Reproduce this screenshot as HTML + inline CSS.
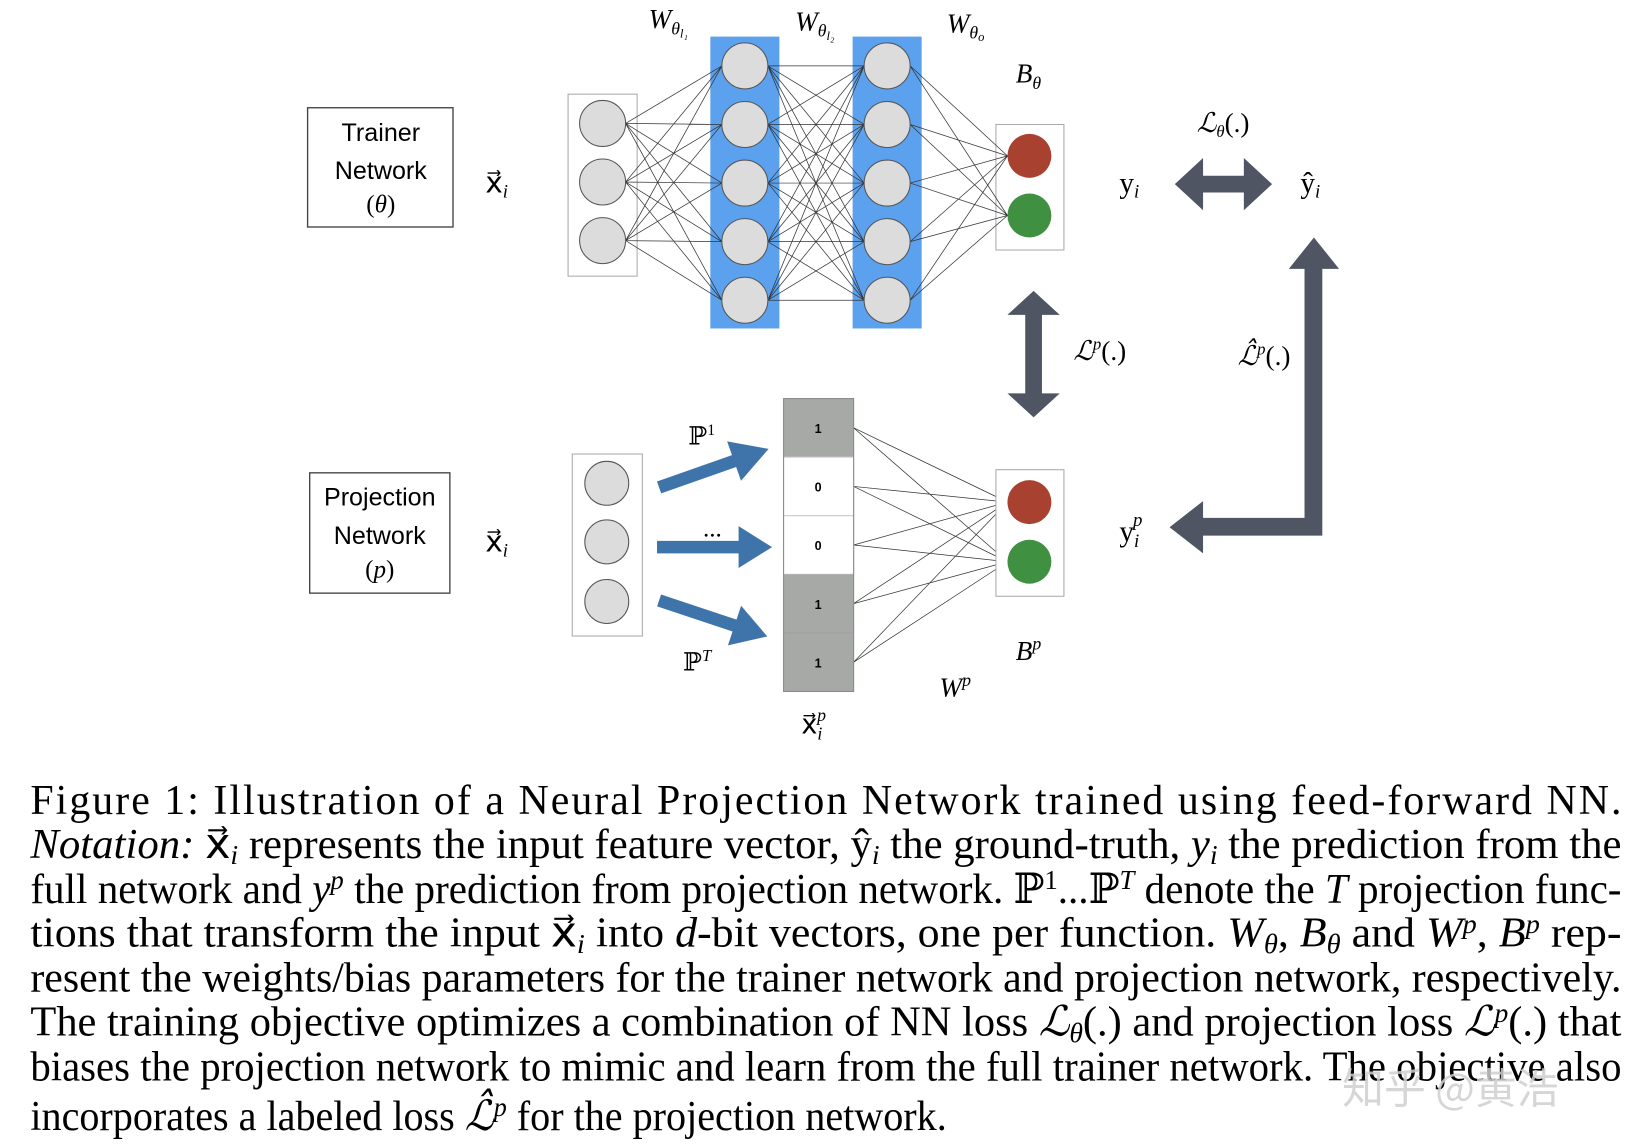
<!DOCTYPE html>
<html><head><meta charset="utf-8"><style>
html,body{margin:0;padding:0;background:#fff;}
svg{display:block;}
.cap{font-family:"Liberation Serif","DejaVu Serif",serif;font-size:40px;fill:#000;}
.m{font-family:"Liberation Serif","DejaVu Serif",serif;fill:#000;}
.s{font-family:"Liberation Sans",sans-serif;fill:#000;}
</style></head><body>
<svg width="1632" height="1146" viewBox="0 0 1560 1095.5" xmlns="http://www.w3.org/2000/svg">
<rect width="1560" height="1096" fill="#fff"/>
<g transform="translate(-2,-1)">
<rect x="296" y="104" width="139" height="114" fill="#fff" stroke="#444" stroke-width="1.3"/>
<text class="s" font-size="24" text-anchor="middle" x="366" y="136">Trainer</text>
<text class="s" font-size="24" text-anchor="middle" x="366" y="172">Network</text>
<text class="m" font-size="24" text-anchor="middle" x="366" y="204">(<tspan font-style="italic">θ</tspan>)</text>
<text class="m" font-size="28" x="466" y="185">x⃗<tspan font-size="18" font-style="italic" dy="5">i</tspan></text>

<rect x="298" y="453" width="134" height="115" fill="#fff" stroke="#444" stroke-width="1.3"/>
<text class="s" font-size="24" text-anchor="middle" x="365" y="484">Projection</text>
<text class="s" font-size="24" text-anchor="middle" x="365" y="521">Network</text>
<text class="m" font-size="24" text-anchor="middle" x="365" y="553">(<tspan font-style="italic">p</tspan>)</text>
<text class="m" font-size="28" x="466" y="528">x⃗<tspan font-size="18" font-style="italic" dy="5">i</tspan></text>

<rect x="545" y="91" width="66" height="174" fill="#fff" stroke="#aaa" stroke-width="1"/>
<rect x="681" y="36" width="66" height="279" fill="#5ba1ee"/>
<rect x="817" y="36" width="66" height="279" fill="#5ba1ee"/>
<rect x="954" y="120" width="65" height="120" fill="#fff" stroke="#aaa" stroke-width="1"/>
<path stroke="#333" stroke-width="0.7" fill="none" d="
M600 119L692 64M600 119L692 120M600 119L692 176M600 119L692 232M600 119L692 288
M600 175L692 64M600 175L692 120M600 175L692 176M600 175L692 232M600 175L692 288
M600 231L692 64M600 231L692 120M600 231L692 176M600 231L692 232M600 231L692 288
M736 64L828 64M736 64L828 120M736 64L828 176M736 64L828 232M736 64L828 288
M736 120L828 64M736 120L828 120M736 120L828 176M736 120L828 232M736 120L828 288
M736 176L828 64M736 176L828 120M736 176L828 176M736 176L828 232M736 176L828 288
M736 232L828 64M736 232L828 120M736 232L828 176M736 232L828 232M736 232L828 288
M736 288L828 64M736 288L828 120M736 288L828 176M736 288L828 232M736 288L828 288
M872 64L965 150M872 120L965 150M872 176L965 150M872 232L965 150M872 288L965 150
M872 64L965 207M872 120L965 207M872 176L965 207M872 232L965 207M872 288L965 207
M818 410L965 481M818 466L965 481M818 522L965 481M818 578L965 481M818 634L965 481
M818 410L965 538M818 466L965 538M818 522L965 538M818 578L965 538M818 634L965 538"/>
<g fill="#dcdcdc" stroke="#555" stroke-width="1">
<circle cx="578" cy="119" r="22"/><circle cx="578" cy="175" r="22"/><circle cx="578" cy="231" r="22"/>
<circle cx="714" cy="64" r="22"/><circle cx="714" cy="120" r="22"/><circle cx="714" cy="176" r="22"/><circle cx="714" cy="232" r="22"/><circle cx="714" cy="288" r="22"/>
<circle cx="850" cy="64" r="22"/><circle cx="850" cy="120" r="22"/><circle cx="850" cy="176" r="22"/><circle cx="850" cy="232" r="22"/><circle cx="850" cy="288" r="22"/>
</g>
<circle cx="986" cy="150" r="21" fill="#a8412f"/>
<circle cx="986" cy="207" r="21" fill="#3f9141"/>

<text class="m" font-size="26" font-style="italic" x="622" y="28">W<tspan font-size="17" dy="6">θ<tspan font-size="12" dy="3">l₁</tspan></tspan></text>
<text class="m" font-size="26" font-style="italic" x="762" y="30">W<tspan font-size="17" dy="6">θ<tspan font-size="12" dy="3">l₂</tspan></tspan></text>
<text class="m" font-size="26" font-style="italic" x="907" y="32">W<tspan font-size="17" dy="6">θ<tspan font-size="12" dy="2">o</tspan></tspan></text>
<text class="m" font-size="26" font-style="italic" x="973" y="80">B<tspan font-size="17" dy="6">θ</tspan></text>

<g fill="#4f5562">
<polygon points="1125,177 1152,152 1152,169 1191,169 1191,152 1218,177 1191,202 1191,185 1152,185 1152,202"/>
<polygon points="990,279 1015,302 998,302 998,377 1015,377 990,400 965,377 982,377 982,302 965,302"/>
<polygon points="1258,228 1282,258 1266,258 1266,513 1152,513 1152,530 1120,505 1152,480 1152,496 1249,496 1249,258 1234,258"/>
</g>
<text class="m" font-size="28" x="1072" y="185">y<tspan font-size="18" font-style="italic" dy="5">i</tspan></text>
<text class="m" font-size="28" x="1245" y="185">ŷ<tspan font-size="18" font-style="italic" dy="5">i</tspan></text>
<text class="m" font-size="26" x="1146" y="127"><tspan font-style="italic">ℒ</tspan><tspan font-size="16" font-style="italic" dy="5">θ</tspan><tspan dy="-5">(.)</tspan></text>
<text class="m" font-size="26" x="1028" y="345"><tspan font-style="italic">ℒ</tspan><tspan font-size="16" font-style="italic" dy="-10">p</tspan><tspan dy="10">(.)</tspan></text>
<text class="m" font-size="26" x="1185" y="350"><tspan font-style="italic">ℒ̂</tspan><tspan font-size="16" font-style="italic" dy="-10">p</tspan><tspan dy="10">(.)</tspan></text>
<text class="m" font-size="28" x="1072" y="518">y<tspan font-size="18" font-style="italic" dy="6">i</tspan><tspan font-size="18" font-style="italic" dx="-6" dy="-20">p</tspan></text>

<rect x="549" y="435" width="67" height="174" fill="#fff" stroke="#aaa" stroke-width="1"/>
<g fill="#dcdcdc" stroke="#555" stroke-width="1">
<circle cx="582" cy="463" r="21"/><circle cx="582" cy="519" r="21"/><circle cx="582" cy="576" r="21"/>
</g>
<g fill="#3e74a9">
<g transform="translate(632,467) rotate(-19.4)"><polygon points="0,-6 76,-6 76,-20 111,0 76,20 76,6 0,6"/></g>
<g transform="translate(630,524)"><polygon points="0,-6 78,-6 78,-20 110,0 78,20 78,6 0,6"/></g>
<g transform="translate(632,575) rotate(18.4)"><polygon points="0,-6 76,-6 76,-20 109,0 76,20 76,6 0,6"/></g>
</g>
<text class="m" font-size="24" x="660" y="426">ℙ<tspan font-size="15" dy="-9">1</tspan></text>
<text class="m" font-size="24" x="674" y="514">...</text>
<text class="m" font-size="24" x="655" y="642">ℙ<tspan font-size="16" font-style="italic" dy="-9">T</tspan></text>

<rect x="751" y="382" width="67" height="56" fill="#a7a9a7"/>
<rect x="751" y="438" width="67" height="56" fill="#fff" stroke="#ccc" stroke-width="1"/>
<rect x="751" y="494" width="67" height="56" fill="#fff" stroke="#ccc" stroke-width="1"/>
<rect x="751" y="550" width="67" height="112" fill="#a7a9a7"/>
<line x1="751" y1="606" x2="818" y2="606" stroke="#999" stroke-width="0.6"/>
<rect x="751" y="382" width="67" height="280" fill="none" stroke="#888" stroke-width="1"/>
<g class="s" font-size="12" font-weight="bold" text-anchor="middle">
<text x="784" y="415">1</text><text x="784" y="471">0</text><text x="784" y="527">0</text><text x="784" y="583">1</text><text x="784" y="639">1</text>
</g>
<rect x="954" y="450" width="65" height="121" fill="#fff" stroke="#aaa" stroke-width="1"/>
<circle cx="986" cy="481" r="21" fill="#a8412f"/>
<circle cx="986" cy="538" r="21" fill="#3f9141"/>
<text class="m" font-size="26" font-style="italic" x="973" y="632">B<tspan font-size="17" dy="-10">p</tspan></text>
<text class="m" font-size="26" font-style="italic" x="900" y="667">W<tspan font-size="17" dy="-10">p</tspan></text>
<text class="m" font-size="26" x="768" y="702">x⃗<tspan font-size="17" font-style="italic" dy="6">i</tspan><tspan font-size="17" font-style="italic" dx="-5" dy="-18">p</tspan></text>
</g>

<text class="cap" x="29" y="778" textLength="1521" lengthAdjust="spacing">Figure 1:  Illustration of a Neural Projection Network trained using feed-forward NN.</text>
<text class="cap" x="29" y="820" textLength="1521" lengthAdjust="spacingAndGlyphs"><tspan font-style="italic">Notation:</tspan> x⃗<tspan font-size="26" font-style="italic" dy="6">i</tspan><tspan dy="-6"> represents the input feature vector, ŷ</tspan><tspan font-size="26" font-style="italic" dy="6">i</tspan><tspan dy="-6"> the ground-truth, </tspan><tspan font-style="italic">y</tspan><tspan font-size="26" font-style="italic" dy="6">i</tspan><tspan dy="-6"> the prediction from the</tspan></text>
<text class="cap" x="29" y="863" textLength="1521" lengthAdjust="spacingAndGlyphs">full network and <tspan font-style="italic">y</tspan><tspan font-size="26" font-style="italic" dy="-13">p</tspan><tspan dy="13"> the prediction from projection network. ℙ</tspan><tspan font-size="26" dy="-13">1</tspan><tspan dy="13">...ℙ</tspan><tspan font-size="26" font-style="italic" dy="-13">T</tspan><tspan dy="13"> denote the </tspan><tspan font-style="italic">T</tspan> projection func-</text>
<text class="cap" x="29" y="905" textLength="1521" lengthAdjust="spacingAndGlyphs">tions that transform the input x⃗<tspan font-size="26" font-style="italic" dy="6">i</tspan><tspan dy="-6"> into </tspan><tspan font-style="italic">d</tspan>-bit vectors, one per function. <tspan font-style="italic">W</tspan><tspan font-size="26" font-style="italic" dy="6">θ</tspan><tspan dy="-6">, </tspan><tspan font-style="italic">B</tspan><tspan font-size="26" font-style="italic" dy="6">θ</tspan><tspan dy="-6"> and </tspan><tspan font-style="italic">W</tspan><tspan font-size="26" font-style="italic" dy="-13">p</tspan><tspan dy="13">, </tspan><tspan font-style="italic">B</tspan><tspan font-size="26" font-style="italic" dy="-13">p</tspan><tspan dy="13"> rep-</tspan></text>
<text class="cap" x="29" y="948" textLength="1521" lengthAdjust="spacingAndGlyphs">resent the weights/bias parameters for the trainer network and projection network, respectively.</text>
<text class="cap" x="29" y="990" textLength="1521" lengthAdjust="spacingAndGlyphs">The training objective optimizes a combination of NN loss <tspan font-style="italic">ℒ</tspan><tspan font-size="26" font-style="italic" dy="6">θ</tspan><tspan dy="-6">(.) and projection loss </tspan><tspan font-style="italic">ℒ</tspan><tspan font-size="26" font-style="italic" dy="-13">p</tspan><tspan dy="13">(.) that</tspan></text>
<text class="cap" x="29" y="1033" textLength="1521" lengthAdjust="spacingAndGlyphs">biases the projection network to mimic and learn from the full trainer network. The objective also</text>
<text class="cap" x="29" y="1080" textLength="876" lengthAdjust="spacingAndGlyphs">incorporates a labeled loss <tspan font-style="italic">ℒ̂</tspan><tspan font-size="26" font-style="italic" dy="-13">p</tspan><tspan dy="13"> for the projection network.</tspan></text>
<text x="1283" y="1055" font-family="'Noto Sans CJK SC','WenQuanYi Zen Hei',sans-serif" font-size="40" fill="#cfcfcf" fill-opacity="0.85">知乎 @黄浩</text>
</svg>
</body></html>
